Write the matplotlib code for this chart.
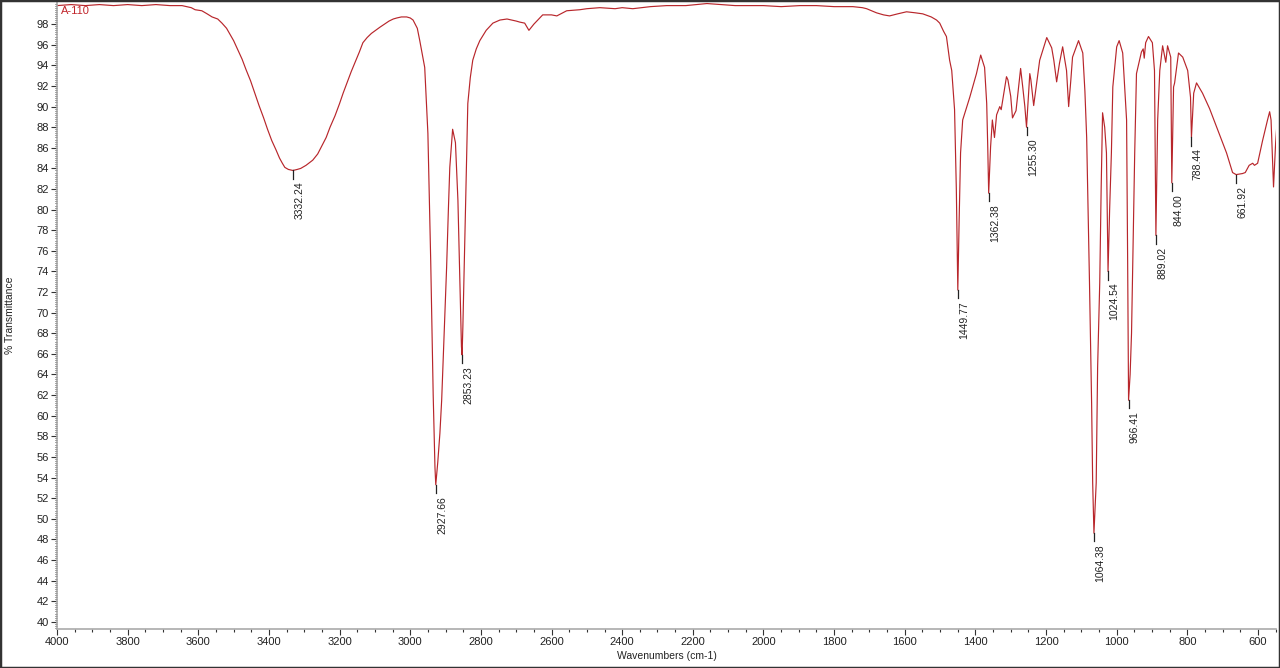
import numpy as np
import matplotlib
matplotlib.use("Agg")
import matplotlib.pyplot as plt
from matplotlib.patches import Rectangle
from matplotlib.ticker import MultipleLocator, FixedLocator

# spectrum (wavenumber cm-1, % transmittance)
wavenumber = [
    4000, 3960, 3920, 3880, 3840, 3800, 3760, 3720, 3680, 3646, 3620, 3609, 3590, 3575,
    3561, 3545, 3533, 3520, 3510, 3500, 3488, 3476, 3465, 3452, 3440, 3428, 3415, 3404,
    3392, 3380, 3370, 3362, 3355, 3345, 3332, 3320, 3310, 3295, 3276, 3262, 3250, 3238,
    3227, 3213, 3200, 3190, 3179, 3167, 3155, 3144, 3134, 3122, 3110, 3098, 3086, 3073,
    3060, 3048, 3038, 3025, 3010, 3000, 2992, 2980, 2973, 2959, 2950, 2942,
    2935, 2930, 2927.7, 2922, 2916, 2911, 2904, 2897, 2892, 2888, 2880, 2872, 2865, 2860,
    2855, 2853.2, 2851, 2847, 2843, 2837, 2830, 2823, 2813, 2803, 2785, 2766, 2746, 2726,
    2700, 2690, 2676, 2664, 2650, 2625, 2600, 2585, 2557, 2520, 2500, 2463, 2420, 2400,
    2370, 2320, 2274, 2220, 2160, 2120, 2080, 2039, 2000, 1950, 1897, 1850, 1800, 1747,
    1720, 1708, 1680, 1660, 1643, 1620, 1595, 1570, 1549, 1525, 1510, 1501, 1490, 1482,
    1473, 1467, 1459, 1454, 1449.8, 1446, 1442, 1436, 1416, 1397, 1385, 1374, 1368, 1365,
    1362.4, 1357, 1352, 1346, 1340, 1331, 1327, 1312, 1308, 1300, 1295, 1285, 1272, 1266,
    1260, 1255.3, 1250, 1246, 1243, 1235, 1218, 1198, 1184, 1178, 1170, 1162, 1153, 1142,
    1136, 1130, 1125, 1108, 1096, 1090, 1085, 1077, 1071, 1068, 1064.4, 1060, 1058, 1054,
    1048, 1044, 1040, 1034, 1029, 1024.5, 1020, 1015, 1011, 1000, 993, 983, 972, 969,
    966.4, 962, 958, 954, 949, 944, 930, 925, 922, 918, 910, 899, 893, 889, 884, 878, 870,
    861, 856, 847, 844, 839, 836, 825, 813, 799, 791, 788.4, 782, 774, 757, 737, 717, 700,
    689, 672, 661.9, 644, 636, 625, 615, 610, 601, 587, 573, 567, 563, 556, 550, 547,
]
transmittance = [
    99.8, 99.9, 99.8, 99.9, 99.8, 99.9, 99.8, 99.9, 99.8, 99.8, 99.6, 99.4, 99.3, 99.0,
    98.7, 98.5, 98.1, 97.6, 97.0, 96.4, 95.5, 94.6, 93.6, 92.5, 91.3, 90.1, 88.9, 87.8,
    86.7, 85.8, 85.0, 84.5, 84.1, 83.9, 83.8, 83.9, 84.0, 84.3, 84.8, 85.4, 86.2, 87.0,
    88.0, 89.1, 90.3, 91.3, 92.3, 93.4, 94.4, 95.3, 96.2, 96.7, 97.1, 97.4, 97.7, 98.0,
    98.3, 98.5, 98.6, 98.7, 98.7, 98.6, 98.4, 97.6, 96.4, 93.8, 87.4, 75.0,
    62.0, 55.0, 53.3, 55.5, 58.3, 61.5, 68.0, 74.4, 80.0, 84.1, 87.8, 86.5, 80.9, 74.0,
    66.7, 65.9, 68.6, 75.0, 80.9, 90.3, 92.8, 94.5, 95.6, 96.4, 97.4, 98.1, 98.4, 98.5,
    98.3, 98.2, 98.1, 97.4, 98.0, 98.9, 98.9, 98.8, 99.3, 99.4, 99.5, 99.6, 99.5, 99.6,
    99.5, 99.7, 99.8, 99.8, 100.0, 99.9, 99.8, 99.8, 99.8, 99.7, 99.8, 99.8, 99.7, 99.7,
    99.6, 99.5, 99.1, 98.9, 98.8, 99.0, 99.2, 99.1, 99.0, 98.7, 98.4, 98.1, 97.3, 96.8,
    94.5, 93.5, 89.7, 82.0, 72.2, 79.0, 85.5, 88.7, 90.9, 93.2, 95.0, 93.8, 90.3, 86.0,
    81.6, 86.1, 88.7, 87.0, 89.2, 90.0, 89.7, 92.9, 92.6, 91.0, 88.9, 89.6, 93.7, 91.9,
    90.0, 88.0, 91.0, 93.2, 92.6, 90.1, 94.5, 96.7, 95.7, 94.5, 92.4, 94.2, 95.8, 93.5,
    90.0, 92.5, 94.8, 96.4, 95.2, 91.5, 87.0, 72.9, 61.2, 53.5, 48.6, 52.0, 53.5, 64.7,
    72.9, 82.0, 89.4, 88.0, 85.5, 74.0, 80.0, 85.5, 91.9, 95.8, 96.4, 95.2, 88.7, 75.0,
    61.5, 64.0, 68.0, 76.0, 85.5, 93.2, 95.3, 95.6, 94.7, 96.2, 96.8, 96.2, 93.5, 77.5,
    88.7, 93.5, 95.9, 94.3, 95.9, 94.8, 82.6, 91.9, 92.3, 95.2, 94.8, 93.5, 90.9, 87.0,
    91.3, 92.3, 91.3, 89.8, 88.0, 86.5, 85.5, 83.6, 83.4, 83.5, 83.6, 84.3, 84.5, 84.3,
    84.5, 86.7, 88.7, 89.5, 88.7, 82.2, 86.5, 88.0,
]

# labelled peaks
peak_wn = [3332.24, 2927.66, 2853.23, 1449.77, 1362.38, 1255.30, 1064.38, 1024.54,
           966.41, 889.02, 844.00, 788.44, 661.92]
peak_t = [83.8, 53.3, 65.9, 72.2, 81.6, 88.0, 48.6, 74.0, 61.5, 77.5, 82.6, 87.0, 83.4]

y_ticks = list(range(40, 100, 2))

fig = plt.figure(figsize=(12.8, 6.68), dpi=100)
ax = fig.add_axes([57 / 1280, 39 / 668, 1219 / 1280, 627 / 668])

ax.plot(wavenumber, transmittance, color="#b8262b", lw=0.85)

for w, t in zip(peak_wn, peak_t):
    ax.plot([w, w], [t, t - 0.8], color="#222222", lw=0.9)
    ax.annotate(f"{w:.2f}", xy=(w, t - 0.8), xytext=(1, -2), textcoords="offset points",
                rotation=90, ha="left", va="top", fontsize=7.5, color="#222222",
                family="Liberation Sans")

ax.text(0.003, 0.994, "A-110", transform=ax.transAxes, ha="left", va="top",
        fontsize=8, color="#c0242a", family="Liberation Sans")

ax.set_xlim(4000, 549)
ax.set_ylim(39.3, 100.15)
ax.xaxis.set_major_locator(MultipleLocator(200))
ax.xaxis.set_minor_locator(MultipleLocator(50))
ax.yaxis.set_major_locator(FixedLocator(y_ticks))
ax.yaxis.set_minor_locator(MultipleLocator(0.2))

for side in ["top", "right"]:
    ax.spines[side].set_visible(False)
for side in ["left", "bottom"]:
    ax.spines[side].set_color("#aaaaaa")
    ax.spines[side].set_linewidth(1.2)

ax.tick_params(axis="both", which="major", length=4, width=0.8, color="#333333",
               labelsize=8, pad=2)
ax.tick_params(axis="y", which="minor", length=1.5, width=0.6, color="#333333")
ax.tick_params(axis="x", which="minor", length=2, width=0.8, color="#333333")
for lbl in ax.get_xticklabels() + ax.get_yticklabels():
    lbl.set_family("Liberation Sans")
    lbl.set_color("#222222")

fig.text(667 / 1280, 1 - 656 / 668, "Wavenumbers (cm-1)", ha="center", va="center",
         fontsize=7.5, color="#222222", family="Liberation Sans")
fig.text(10 / 1280, 1 - 315 / 668, "% Transmittance", ha="center", va="center",
         rotation=90, fontsize=7.5, color="#222222", family="Liberation Sans")

# outer frame
fig.patches.append(Rectangle((0, 0), 1, 1, transform=fig.transFigure, fill=False,
                             edgecolor="#333333", lw=2.5))

fig.savefig("out.png", dpi=100)
